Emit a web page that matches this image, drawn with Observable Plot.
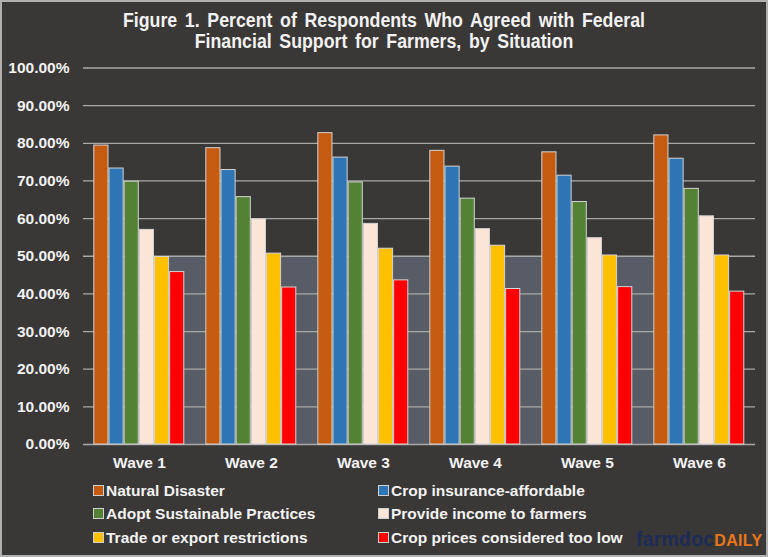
<!DOCTYPE html>
<html>
<head>
<meta charset="utf-8">
<script src="https://cdn.jsdelivr.net/npm/d3@7"></script>
<script src="https://cdn.jsdelivr.net/npm/@observablehq/plot@0.6"></script>
<style>
  html, body { margin: 0; padding: 0; background: #3a3836; }
  #wrap { position: relative; width: 768px; height: 557px; background: #3a3836; overflow: hidden;
          font-family: "Liberation Sans", Arial, sans-serif; color: #f2f2f2; }
  #frame { position: absolute; left: 0; top: 0; width: 768px; height: 557px; box-sizing: border-box;
           border: 2px solid #b0b0b0; pointer-events: none; }
  #title { position: absolute; left: 0; top: 10px; width: 768px; text-align: center;
           font-family: "Liberation Sans", Arial, sans-serif; transform: scaleX(0.91); transform-origin: 384px 0;
           font-weight: bold; font-size: 19.5px; line-height: 21px; word-spacing: 3px; color: #f2f2f2; }
  #chart { position: absolute; left: 0; top: 58px; }
  .leg { position: absolute; font-weight: bold; font-size: 15.5px; line-height: 18px; white-space: nowrap; color: #f2f2f2; }
  .sw { display: inline-block; width: 9px; height: 9px; border: 1px solid #d0d0d0; margin-right: 2px; vertical-align: 0px; }
  #logo { position: absolute; left: 636px; top: 528px; white-space: nowrap; font-weight: bold; }
  #logo .a { color: #1c2b57; font-size: 19.5px; letter-spacing: 0.2px; }
  #logo .b { color: #e8761c; font-size: 16px; letter-spacing: 0.3px; }
</style>
</head>
<body>
<div id="wrap">
  <div id="title">Figure 1. Percent of Respondents Who Agreed with Federal<br>Financial Support for Farmers, by Situation</div>
  <div id="chart"></div>
  <div id="legend"></div>
  <div id="logo"><span class="a">farmdoc</span><span class="b">DAILY</span></div>
  <div id="frame"></div>
</div>
<script>
// ---- data ----
const waves = ["Wave 1", "Wave 2", "Wave 3", "Wave 4", "Wave 5", "Wave 6"];
const seriesNames = [
  "Natural Disaster",
  "Crop insurance-affordable",
  "Adopt Sustainable Practices",
  "Provide income to farmers",
  "Trade or export restrictions",
  "Crop prices considered too low"
];
const seriesColors = ["#C55A11", "#2E75B6", "#548235", "#FBE5D6", "#FFC000", "#FF0000"];
const naturalDisaster   = [79.4, 78.7, 82.7, 78.0, 77.6, 82.1];
const cropInsurance     = [73.3, 72.9, 76.2, 73.8, 71.4, 75.9];
const sustainable       = [69.8, 65.7, 69.6, 65.3, 64.4, 67.9];
const provideIncome     = [57.0, 59.8, 58.6, 57.2, 54.8, 60.6];
const tradeRestrictions = [49.8, 50.7, 52.0, 52.8, 50.2, 50.2];
const lowPrices         = [45.8, 41.7, 43.6, 41.3, 41.8, 40.6];
const benchmark         = [50, 50, 50, 50, 50];   // grey 50% band between waves
const yTicks = [0, 10, 20, 30, 40, 50, 60, 70, 80, 90, 100];

// ---- build table ----
const values = [naturalDisaster, cropInsurance, sustainable, provideIncome, tradeRestrictions, lowPrices];
const pad = 0.092, step = 0.1354;
const bars = [];
waves.forEach((w, i) => {
  values.forEach((arr, j) => {
    bars.push({wave: w, series: seriesNames[j], value: arr[i],
               x1: i + pad + j * step, x2: i + pad + (j + 1) * step});
  });
});
const bands = benchmark.map((v, i) => ({value: v, x1: i + pad + 5 * step, x2: i + 1 + pad}));

const plot = Plot.plot({
  width: 768,
  height: 420,
  marginLeft: 83,
  marginRight: 13,
  marginTop: 9.5,
  marginBottom: 34,
  style: {background: "transparent", color: "#f2f2f2", fontFamily: "'Liberation Sans', Arial, sans-serif", fontWeight: "bold"},
  x: {domain: [0, 6], axis: null},
  y: {domain: [0, 100], axis: null},
  color: {domain: seriesNames, range: seriesColors},
  marks: [
    Plot.rectY(bands, {x1: "x1", x2: "x2", y: "value", fill: "#585c66"}),
    Plot.ruleY(yTicks, {stroke: "#a8a8a8", strokeWidth: 1.3}),
    Plot.rectY(bars, {x1: "x1", x2: "x2", y: "value", fill: "series", stroke: "#d4d4d4", strokeWidth: 1, insetLeft: 0.5, insetRight: 0.5}),
    Plot.axisY({ticks: yTicks, tickSize: 0, tickPadding: 14, fontSize: 15.5, fill: "#f2f2f2",
                tickFormat: d => d.toFixed(2) + "%", label: null}),
    Plot.text(waves, {x: (d, i) => i + 0.5, y: () => 0, dy: 19, text: d => d, fontSize: 15.5, fill: "#f2f2f2"})
  ]
});
document.getElementById("chart").appendChild(plot);

// ---- legend ----
const legend = document.getElementById("legend");
const colX = [93, 378];
const rowY = [482, 505, 529];
seriesNames.forEach((name, k) => {
  const el = document.createElement("div");
  el.className = "leg";
  el.style.left = colX[k % 2] + "px";
  el.style.top = rowY[Math.floor(k / 2)] + "px";
  el.innerHTML = `<span class="sw" style="background:${seriesColors[k]}"></span>${name}`;
  legend.appendChild(el);
});
</script>
</body>
</html>
